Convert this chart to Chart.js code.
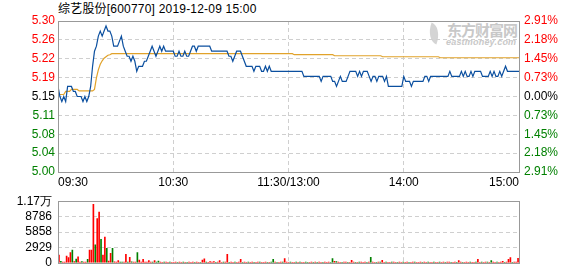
<!DOCTYPE html>
<html><head><meta charset="utf-8">
<script src="https://cdn.jsdelivr.net/npm/chart.js@4.4.1/dist/chart.umd.min.js"></script>
<style>
html,body{margin:0;padding:0;background:#fff;width:578px;height:276px;overflow:hidden}
#wrap{position:relative;width:578px;height:276px}
canvas{position:absolute;left:0}
#c1{top:0}
#c2{top:188px}
#title{position:absolute;left:58px;top:2px;font:12px "Liberation Sans","Noto Sans CJK SC",sans-serif;color:#000;white-space:pre;line-height:14px;letter-spacing:0.2px}
#wm1{position:absolute;left:447px;top:22px;font:bold 15px "Noto Sans CJK SC",sans-serif;color:#c8c8c8;line-height:16px;letter-spacing:-1px}
#wm2{position:absolute;left:446px;top:37px;font:italic bold 9px "Liberation Sans",sans-serif;color:#c8c8c8;line-height:10px;letter-spacing:0.2px}
#wm3{position:absolute;left:428px;top:24px;width:12px;height:19px;border-radius:0 100% 0 100%;background:#d4d4d4;transform:rotate(20deg)}
</style></head>
<body><div id="wrap">
<div id="title">综艺股份[600770] 2019-12-09 15:00</div>
<div id="wm3"></div>
<div id="wm1">东方财富网</div>
<div id="wm2">eastmoney.com</div>
<canvas id="c1" width="578" height="190"></canvas>
<canvas id="c2" width="578" height="88"></canvas>
</div>
<script>
// ---------- data ----------
const prevClose = 5.15;
const timeTickMinutes = [0, 60, 120, 180, 240];
const timeTickLabels = ['09:30', '10:30', '11:30/13:00', '14:00', '15:00'];
const priceTickValues = [5.00, 5.0375, 5.075, 5.1125, 5.15, 5.1875, 5.225, 5.2625, 5.30];
const priceTickLabels = ['5.00', '5.04', '5.08', '5.11', '5.15', '5.19', '5.22', '5.26', '5.30'];
const pctTickLabels = ['2.91%', '2.18%', '1.45%', '0.73%', '0.00%', '0.73%', '1.45%', '2.18%', '2.91%'];
const volTickValues = [0, 2929, 5858, 8786, 11716];
const volTickLabels = ['0', '2929', '5858', '8786', '1.17万'];

const price = [
5.17,5.15,5.14,5.15,5.14,5.17,5.17,5.17,5.16,5.16,5.15,5.15,5.15,5.14,5.15,5.14,5.15,5.17,5.21,5.24,
5.25,5.27,5.28,5.27,5.28,5.29,5.28,5.28,5.27,5.25,5.25,5.25,5.26,5.27,5.25,5.24,5.23,5.23,5.22,5.23,
5.22,5.20,5.21,5.21,5.21,5.22,5.22,5.23,5.24,5.25,5.24,5.23,5.24,5.25,5.24,5.25,5.24,5.24,5.24,5.24,
5.24,5.23,5.23,5.24,5.23,5.23,5.24,5.23,5.23,5.24,5.25,5.25,5.24,5.25,5.25,5.25,5.25,5.25,5.25,5.25,
5.24,5.24,5.24,5.24,5.24,5.24,5.24,5.24,5.24,5.23,5.23,5.22,5.23,5.24,5.24,5.24,5.23,5.22,5.21,5.21,
5.21,5.21,5.20,5.21,5.21,5.21,5.20,5.20,5.21,5.20,5.21,5.20,5.20,5.20,5.20,5.20,5.20,5.20,5.20,5.20,
5.20,5.20,5.20,5.20,5.20,5.20,5.20,5.20,5.19,5.19,5.19,5.19,5.19,5.19,5.19,5.19,5.19,5.18,5.19,5.19,
5.19,5.19,5.19,5.18,5.18,5.17,5.18,5.19,5.18,5.18,5.18,5.19,5.20,5.20,5.20,5.20,5.19,5.20,5.19,5.20,
5.20,5.20,5.19,5.18,5.19,5.19,5.18,5.19,5.19,5.19,5.18,5.19,5.17,5.17,5.17,5.17,5.17,5.17,5.17,5.17,
5.19,5.18,5.18,5.18,5.17,5.18,5.18,5.18,5.18,5.18,5.18,5.19,5.19,5.18,5.19,5.19,5.19,5.19,5.19,5.19,
5.19,5.19,5.19,5.19,5.20,5.19,5.19,5.19,5.19,5.19,5.20,5.19,5.20,5.19,5.19,5.20,5.19,5.20,5.20,5.20,
5.20,5.19,5.19,5.19,5.19,5.20,5.19,5.20,5.19,5.19,5.20,5.19,5.20,5.21,5.20,5.20,5.20,5.20,5.20,5.20,
5.20];

const avgPrice = [
5.154,5.154,5.154,5.154,5.160,5.160,5.160,5.164,5.164,5.164,5.164,5.161,5.161,5.161,5.161,5.161,5.161,5.161,5.161,5.164,
5.187,5.203,5.214,5.221,5.226,5.229,5.232,5.233,5.235,5.235,5.235,5.235,5.235,5.235,5.235,5.235,5.235,5.235,5.235,5.235,
5.235,5.235,5.235,5.235,5.235,5.235,5.235,5.235,5.235,5.235,5.235,5.235,5.235,5.235,5.235,5.235,5.235,5.235,5.235,5.235,
5.235,5.235,5.235,5.235,5.235,5.235,5.235,5.235,5.235,5.235,5.235,5.235,5.235,5.235,5.235,5.235,5.235,5.235,5.235,5.235,
5.235,5.235,5.235,5.235,5.235,5.235,5.235,5.235,5.235,5.235,5.235,5.235,5.235,5.235,5.235,5.235,5.235,5.235,5.235,5.235,
5.235,5.235,5.235,5.235,5.235,5.235,5.235,5.235,5.235,5.235,5.235,5.235,5.235,5.235,5.235,5.235,5.235,5.235,5.235,5.235,
5.235,5.235,5.235,5.233,5.233,5.233,5.233,5.233,5.233,5.233,5.233,5.233,5.233,5.233,5.233,5.233,5.233,5.233,5.233,5.233,
5.233,5.233,5.233,5.233,5.231,5.231,5.231,5.231,5.231,5.231,5.231,5.231,5.231,5.231,5.231,5.231,5.231,5.231,5.231,5.231,
5.231,5.231,5.231,5.231,5.231,5.231,5.231,5.231,5.231,5.229,5.229,5.229,5.229,5.229,5.229,5.229,5.229,5.229,5.229,5.229,
5.229,5.229,5.229,5.229,5.229,5.229,5.229,5.229,5.229,5.229,5.229,5.229,5.229,5.229,5.229,5.229,5.229,5.229,5.229,5.227,
5.227,5.227,5.227,5.227,5.227,5.227,5.227,5.227,5.227,5.227,5.227,5.227,5.227,5.227,5.227,5.227,5.227,5.227,5.227,5.227,
5.227,5.227,5.227,5.227,5.227,5.227,5.227,5.227,5.227,5.227,5.227,5.227,5.227,5.227,5.227,5.227,5.227,5.227,5.227,5.227,
5.227];

const volume = [
1460,300,150,150,1300,975,1950,2440,250,690,1140,150,250,150,150,650,2440,2440,11100,3400,
8400,9650,4450,1460,4880,2760,350,1790,2760,200,150,430,150,150,120,1630,150,1030,200,150,
150,1950,540,150,650,150,150,400,120,120,400,120,350,120,100,150,120,100,120,100,
100,120,100,150,100,120,100,100,120,100,150,100,120,100,100,540,760,150,100,250,
120,250,100,120,430,100,150,120,1630,100,120,100,150,100,120,650,100,120,100,150,
100,120,100,100,150,120,100,100,120,100,100,150,650,120,100,100,120,150,810,120,
100,120,100,100,120,100,150,100,100,120,100,100,120,100,150,100,120,100,100,120,
100,120,100,810,300,250,120,100,100,150,120,100,100,490,120,100,100,150,120,100,
120,100,150,1030,120,100,100,150,120,490,100,120,100,100,120,150,100,100,120,100,
150,100,120,100,100,120,150,100,100,120,100,120,100,150,100,100,120,100,100,120,
100,120,100,150,120,100,100,120,100,400,120,100,100,150,100,120,100,100,120,650,
100,120,100,150,120,100,400,120,100,150,100,120,300,100,120,650,975,100,120,150,
870];

// 1 = up (red), 0 = down (green)
const volumeUp = [
1,0,1,1,1,1,1,0,1,0,1,1,0,1,1,0,1,1,1,0,
1,1,0,1,1,0,1,1,0,1,1,1,0,0,1,1,0,1,0,1,
1,0,1,1,1,1,1,1,1,0,1,0,0,1,1,0,1,1,0,1,
1,1,0,1,1,0,1,0,1,1,1,0,1,1,0,1,1,0,1,1,
1,1,0,1,1,1,0,1,1,0,1,1,0,1,1,1,0,1,1,0,
1,1,0,1,1,0,1,1,1,0,1,0,0,1,0,1,1,0,1,1,
1,0,1,1,0,1,0,1,1,0,0,1,1,0,1,0,1,1,0,1,
1,1,0,0,1,0,1,1,0,1,1,0,1,1,1,0,1,0,1,1,
1,0,1,0,1,1,0,1,0,1,1,0,1,1,0,1,1,0,1,1,
0,1,1,0,1,1,0,1,1,1,0,1,1,0,1,1,0,1,1,0,
1,1,0,1,1,0,1,1,0,1,1,0,1,1,1,0,1,1,0,1,
1,0,1,1,0,1,0,1,1,0,1,1,1,0,1,1,1,0,1,1,
1];

// ---------- styles ----------
const RED = '#ff0000', GREEN = '#008000', BLACK = '#000000';
const GRID = '#cfcfcf', FRAME = '#999999';
const FONT = {family: '"Liberation Sans", Arial, sans-serif', size: 12};

const boxPlugin = {
  id: 'box',
  afterDraw(chart) {
    const {ctx, chartArea: a} = chart;
    ctx.save();
    ctx.strokeStyle = FRAME;
    ctx.lineWidth = 1;
    ctx.strokeRect(Math.round(a.left) + 0.5, Math.round(a.top) + 0.5,
                   Math.round(a.right - a.left), Math.round(a.bottom - a.top));
    ctx.restore();
  }
};

function sideColor(v) { return Math.abs(v - prevClose) < 1e-6 ? BLACK : (v > prevClose ? RED : GREEN); }

new Chart(document.getElementById('c1'), {
  type: 'line',
  data: {
    datasets: [
      {data: price.map((p, i) => ({x: i, y: p})), borderColor: '#0b4f9f', borderWidth: 1.2,
       pointRadius: 0, tension: 0, yAxisID: 'y'},
      {data: avgPrice.map((p, i) => ({x: i, y: p})), borderColor: '#e1a22a', borderWidth: 1.2,
       pointRadius: 0, tension: 0, yAxisID: 'y'}
    ]
  },
  options: {
    responsive: false, animation: false, devicePixelRatio: 1,
    layout: {padding: {top: 21, left: 0, right: 0, bottom: 0}},
    plugins: {legend: {display: false}, tooltip: {enabled: false}},
    scales: {
      x: {
        type: 'linear', min: 0, max: 240,
        afterBuildTicks: s => { s.ticks = timeTickMinutes.map(v => ({value: v})); },
        afterFit: s => { s.height = 18; },
        ticks: {autoSkip: false, maxRotation: 0, align: 'inner', padding: 3, color: BLACK, font: FONT,
                callback: (v, i) => timeTickLabels[i]},
        grid: {drawTicks: false, color: c => (c.index === 0 || c.index === timeTickMinutes.length - 1) ? 'rgba(0,0,0,0)' : GRID},
        border: {display: false, dash: [4, 3]}
      },
      y: {
        type: 'linear', position: 'left', min: priceTickValues[0], max: priceTickValues[priceTickValues.length - 1],
        afterBuildTicks: s => { s.ticks = priceTickValues.map(v => ({value: v})); },
        afterFit: s => { s.width = 58; },
        ticks: {autoSkip: false, padding: 3, font: FONT, color: c => sideColor(priceTickValues[c.index]),
                callback: (v, i) => priceTickLabels[i]},
        grid: {drawTicks: false, color: c => (c.index === 0 || c.index === priceTickValues.length - 1) ? 'rgba(0,0,0,0)' : GRID},
        border: {display: false, dash: [4, 3]}
      },
      y2: {
        type: 'linear', position: 'right', min: priceTickValues[0], max: priceTickValues[priceTickValues.length - 1],
        afterBuildTicks: s => { s.ticks = priceTickValues.map(v => ({value: v})); },
        afterFit: s => { s.width = 59; },
        ticks: {autoSkip: false, padding: 5, font: FONT, color: c => sideColor(priceTickValues[c.index]),
                callback: (v, i) => pctTickLabels[i]},
        grid: {drawTicks: false, drawOnChartArea: false},
        border: {display: false}
      }
    }
  },
  plugins: [boxPlugin]
});

new Chart(document.getElementById('c2'), {
  type: 'bar',
  data: {
    datasets: [{
      data: volume.map((v, i) => ({x: i, y: v})),
      backgroundColor: volumeUp.map(u => u ? RED : GREEN),
      barThickness: 1, borderWidth: 0
    }]
  },
  options: {
    responsive: false, animation: false, devicePixelRatio: 1,
    layout: {padding: {top: 8, left: 0, right: 59, bottom: 0}},
    plugins: {legend: {display: false}, tooltip: {enabled: false}},
    scales: {
      x: {
        type: 'linear', min: -0.5, max: volume.length - 0.5, offset: false,
        afterBuildTicks: s => {
          const n = volume.length;
          s.ticks = [0, 0.25, 0.5, 0.75, 1].map(q => ({value: n * q - 0.5}));
        },
        afterFit: s => { s.height = 6; },
        ticks: {display: false},
        grid: {drawTicks: false, offset: false, color: c => (c.index === 0 || c.index === 4) ? 'rgba(0,0,0,0)' : GRID},
        border: {display: false, dash: [4, 3]}
      },
      y: {
        type: 'linear', min: volTickValues[0], max: volTickValues[volTickValues.length - 1],
        afterBuildTicks: s => { s.ticks = volTickValues.map(v => ({value: v})); },
        afterFit: s => { s.width = 58; },
        ticks: {autoSkip: false, padding: 6, font: FONT, color: BLACK,
                callback: (v, i) => volTickLabels[i]},
        grid: {drawTicks: false, color: c => (c.index === 0 || c.index === volTickValues.length - 1) ? 'rgba(0,0,0,0)' : GRID},
        border: {display: false, dash: [4, 3]}
      }
    }
  },
  plugins: [boxPlugin]
});
</script>
</body></html>
